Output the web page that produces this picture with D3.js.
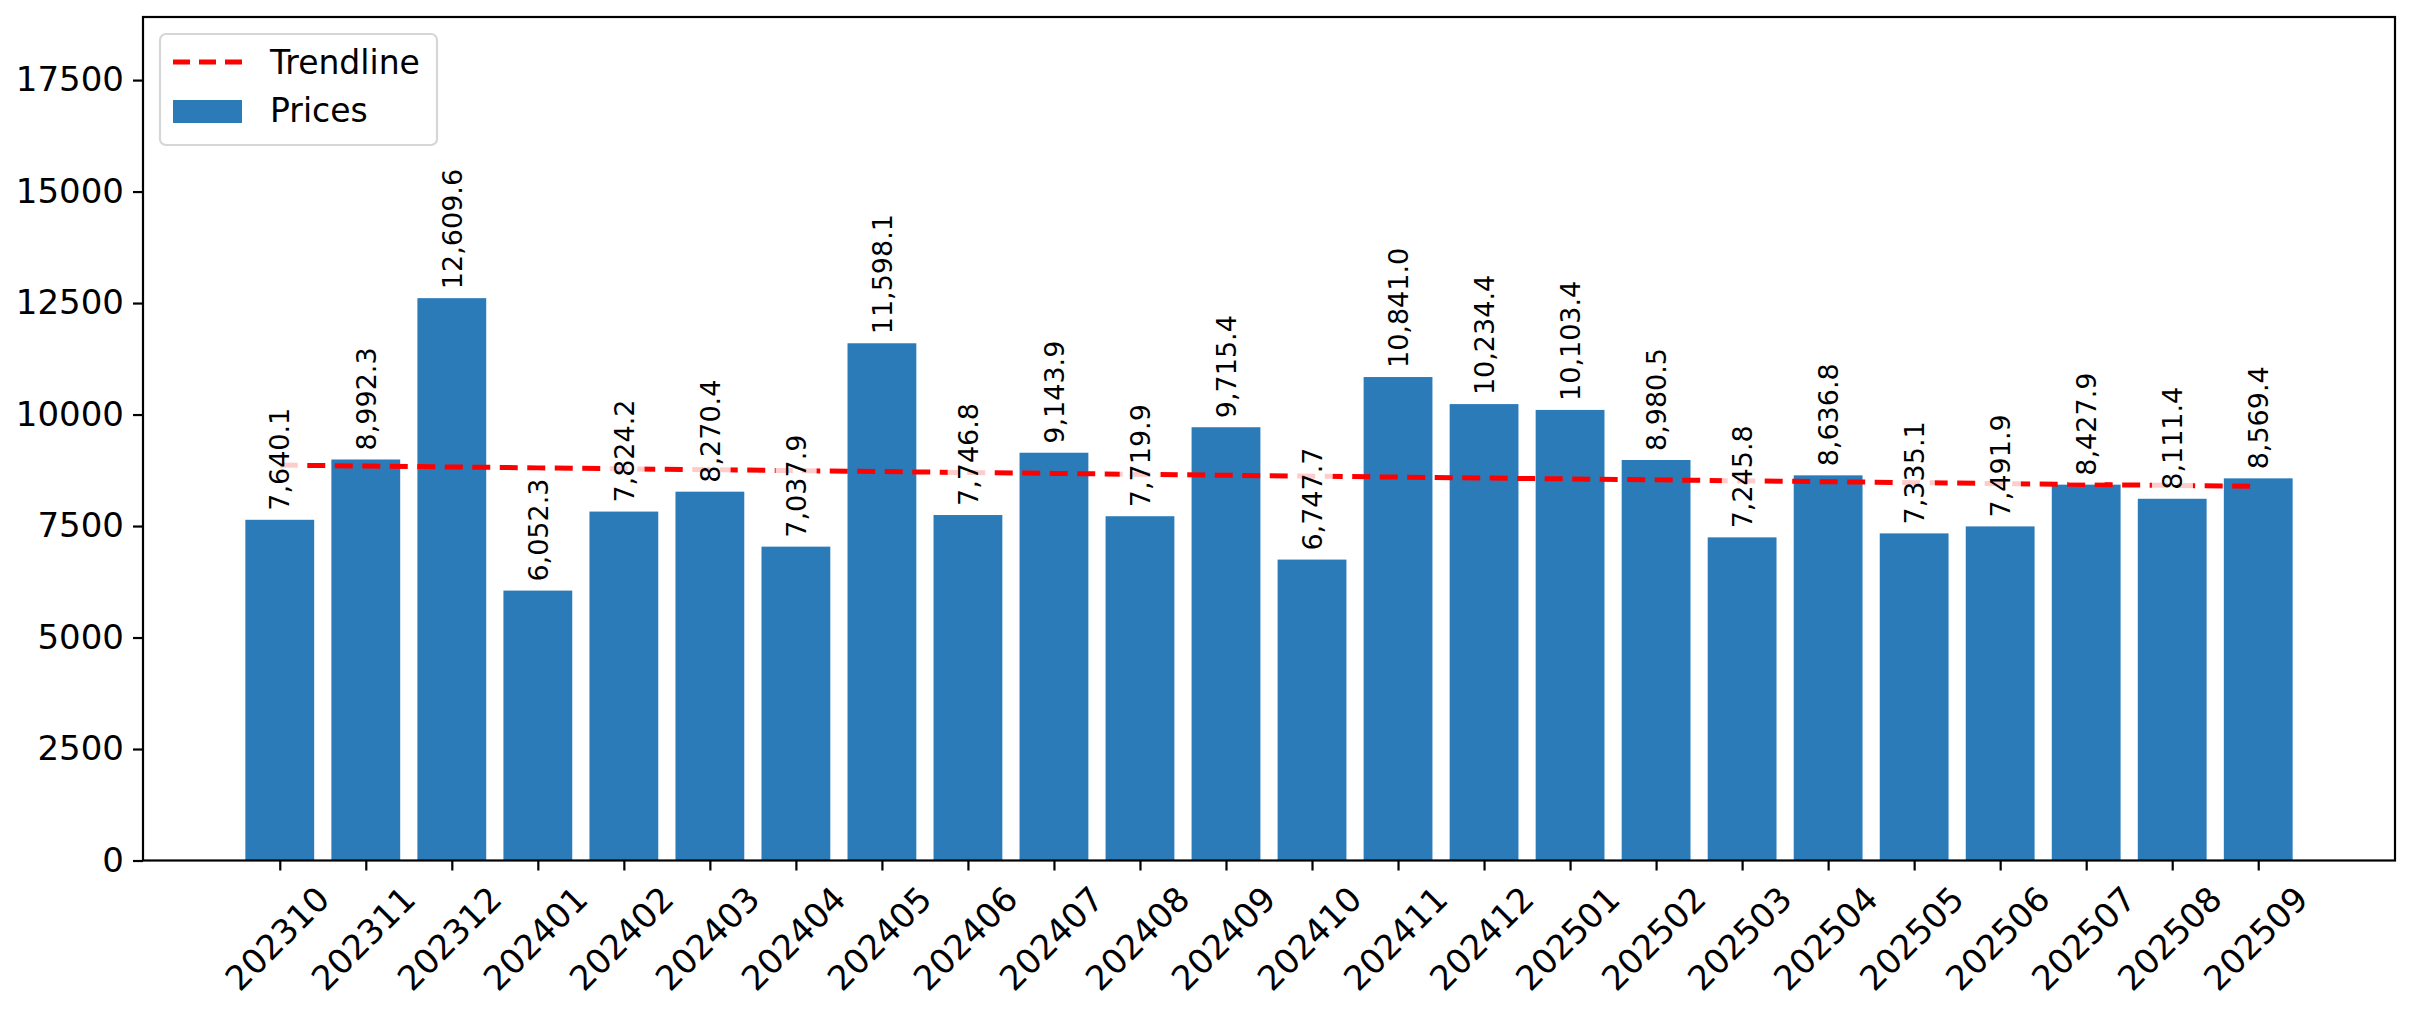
<!DOCTYPE html>
<html>
<head>
<meta charset="utf-8">
<script src="https://cdn.jsdelivr.net/npm/d3@7"></script>
<style>
  html, body { margin: 0; padding: 0; background: #fff; }
  svg { display: block; font-family: "DejaVu Sans", sans-serif; }
</style>
</head>
<body>
<svg id="chart" width="2411" height="1011"></svg>
<script>
const months = ["202310","202311","202312","202401","202402","202403","202404","202405","202406","202407","202408","202409","202410","202411","202412","202501","202502","202503","202504","202505","202506","202507","202508","202509"];
const prices = [7640.1, 8992.3, 12609.6, 6052.3, 7824.2, 8270.4, 7037.9, 11598.1, 7746.8, 9143.9, 7719.9, 9715.4, 6747.7, 10841.0, 10234.4, 10103.4, 8980.5, 7245.8, 8636.8, 7335.1, 7491.9, 8427.9, 8111.4, 8569.4];
const yTicks = [0, 2500, 5000, 7500, 10000, 12500, 15000, 17500];
const legendLabels = ["Trendline", "Prices"];

// linear least-squares trendline of the price series (as the original chart's trendline)
const n = prices.length;
const xs = d3.range(n);
const mx = d3.mean(xs), my = d3.mean(prices);
const slope = d3.sum(xs, i => (i - mx) * (prices[i] - my)) / d3.sum(xs, i => (i - mx) * (i - mx));
const intercept = my - slope * mx;
const trend = xs.map(i => intercept + slope * i);

const svg = d3.select("#chart");
const L = 143, R = 2395, T = 17, B = 860.5;
const barW = 0.8;
const span = (n - 1) + barW;
const x = d3.scaleLinear().domain([-barW/2 - 0.05*span, n - 1 + barW/2 + 0.05*span]).range([L, R]);
const y = d3.scaleLinear().domain([0, d3.max(prices) * 1.5]).range([B, T]);
const barColor = "#2b7bb9";

// bars
svg.append("g").selectAll("rect").data(prices).join("rect")
  .attr("x", (d, i) => x(i - barW/2))
  .attr("width", (d, i) => x(i + barW/2) - x(i - barW/2))
  .attr("y", d => y(d))
  .attr("height", d => B - y(d))
  .attr("fill", barColor);

// trendline
svg.append("path")
  .datum(trend)
  .attr("d", d3.line().x((d, i) => x(i)).y(d => y(d)))
  .attr("fill", "none")
  .attr("stroke", "#ff0000")
  .attr("stroke-width", 5)
  .attr("stroke-dasharray", "18,9.5");

// value labels
const fs = 27;
const fmt = d3.format(",.1f");
const lab = svg.append("g");
prices.forEach((v, i) => {
  const g = lab.append("g")
    .attr("transform", `translate(${x(i) + 0.36*fs},${y(v) - 9}) rotate(-90)`);
  const t = g.append("text")
    .attr("font-size", fs)
    .attr("fill", "#000")
    .text(fmt(v));
  const bb = t.node().getBBox();
  const pad = 7;
  g.insert("rect", "text")
    .attr("x", bb.x - pad).attr("y", bb.y - pad + 2)
    .attr("width", bb.width + 2*pad).attr("height", bb.height + 2*pad - 4)
    .attr("rx", 4)
    .attr("fill", "#fff").attr("fill-opacity", 0.8);
});

// y axis
const yAxis = d3.axisLeft(y).tickValues(yTicks).tickSize(10).tickPadding(9).tickFormat(d3.format("d"));
const gy = svg.append("g").attr("transform", `translate(${L},0)`).call(yAxis);
gy.select(".domain").remove();
gy.selectAll(".tick line").attr("stroke", "#000").attr("stroke-width", 2.2);
gy.selectAll(".tick text").attr("font-size", 34).attr("fill", "#000").attr("font-family", "DejaVu Sans");

// x axis
const xAxis = d3.axisBottom(x).tickValues(xs).tickSize(10).tickFormat(i => months[i]);
const gx = svg.append("g").attr("transform", `translate(0,${B})`).call(xAxis);
gx.select(".domain").remove();
gx.selectAll(".tick line").attr("stroke", "#000").attr("stroke-width", 2.2);
gx.selectAll(".tick text")
  .attr("font-size", 34).attr("fill", "#000").attr("font-family", "DejaVu Sans")
  .attr("text-anchor", "middle")
  .attr("dominant-baseline", "central")
  .attr("y", 0).attr("dy", null)
  .attr("transform", "translate(-3,78) rotate(-45)");

// frame
svg.append("rect")
  .attr("x", L).attr("y", T).attr("width", R - L).attr("height", B - T)
  .attr("fill", "none").attr("stroke", "#000").attr("stroke-width", 2.2);

// legend
const lg = svg.append("g");
lg.append("rect")
  .attr("x", 160).attr("y", 34).attr("width", 277).attr("height", 111)
  .attr("rx", 6)
  .attr("fill", "#fff").attr("fill-opacity", 0.8)
  .attr("stroke", "#d6d6d6").attr("stroke-width", 2.2);
lg.append("line")
  .attr("x1", 173).attr("x2", 242).attr("y1", 62).attr("y2", 62)
  .attr("stroke", "#ff0000").attr("stroke-width", 5)
  .attr("stroke-dasharray", "17,9");
lg.append("rect")
  .attr("x", 173).attr("y", 100).attr("width", 69).attr("height", 23)
  .attr("fill", barColor);
lg.selectAll("text.leg").data(legendLabels).join("text")
  .attr("class", "leg")
  .attr("x", 270)
  .attr("y", (d, i) => 74 + i * 48)
  .attr("font-size", 33)
  .attr("fill", "#000")
  .text(d => d);
</script>
</body>
</html>
